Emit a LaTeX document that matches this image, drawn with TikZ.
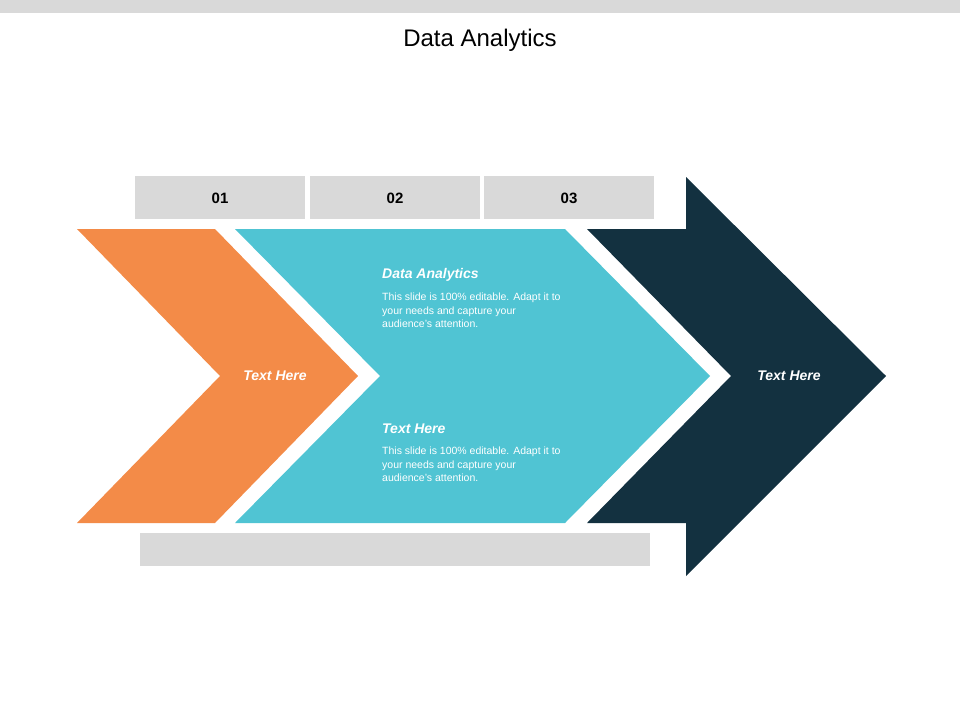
\documentclass[tikz,border=0pt]{standalone}
\usepackage{fontspec}
\setmainfont{Liberation Sans}
\definecolor{org}{HTML}{F38B48}
\definecolor{cyn}{HTML}{50C4D3}
\definecolor{drk}{HTML}{133140}
\definecolor{gry}{HTML}{D9D9D9}
\begin{document}
\begin{tikzpicture}[x=1pt,y=-1pt,
  gbox/.style={fill=gry,draw=none},
  num/.style={font=\fontsize{15}{18}\selectfont\bfseries,text=black},
  hd/.style={font=\fontsize{14}{17}\selectfont\bfseries\itshape,text=white},
  body/.style={font=\fontsize{10.5}{13.5}\selectfont,text=white,align=left,anchor=north west,inner sep=0}]
\useasboundingbox (0,0) rectangle (960,720);
\fill[gry] (0,0) rectangle (960,13);
\node (title) at (480,40) {\fontsize{24}{28}\selectfont Data Analytics};
\fill[gbox] (135,176) rectangle (305,219);
\fill[gbox] (310,176) rectangle (480,219);
\fill[gbox] (484,176) rectangle (654,219);
\node[num] (n1) at (220,198) {01};
\node[num] (n2) at (395,198) {02};
\node[num] (n3) at (569,198) {03};
\fill[gbox] (140,533) rectangle (650,566);
\fill[org] (77,229) -- (215,229) -- (358,376) -- (215,523) -- (77,523) -- (220,376) -- cycle;
\fill[cyn] (235,229) -- (565,229) -- (710,376) -- (565,523) -- (235,523) -- (380,376) -- cycle;
\fill[drk] (587,229) -- (686,229) -- (686,177) -- (886,376) -- (686,576) -- (686,523) -- (587,523) -- (731,376) -- cycle;
\node[hd] (t1) at (275,376) {Text Here};
\node[hd] (t3) at (789,376) {Text Here};
\node[hd,anchor=west,inner sep=0] (h1) at (382,275) {Data Analytics};
\node[body] (b1) at (382,293) {This slide is 100\% editable. Adapt it to\\your needs and capture your\\audience's attention.};
\node[hd,anchor=west,inner sep=0] (h2) at (382,429) {Text Here};
\node[body] (b2) at (382,447) {This slide is 100\% editable. Adapt it to\\your needs and capture your\\audience's attention.};
\end{tikzpicture}
\end{document}
